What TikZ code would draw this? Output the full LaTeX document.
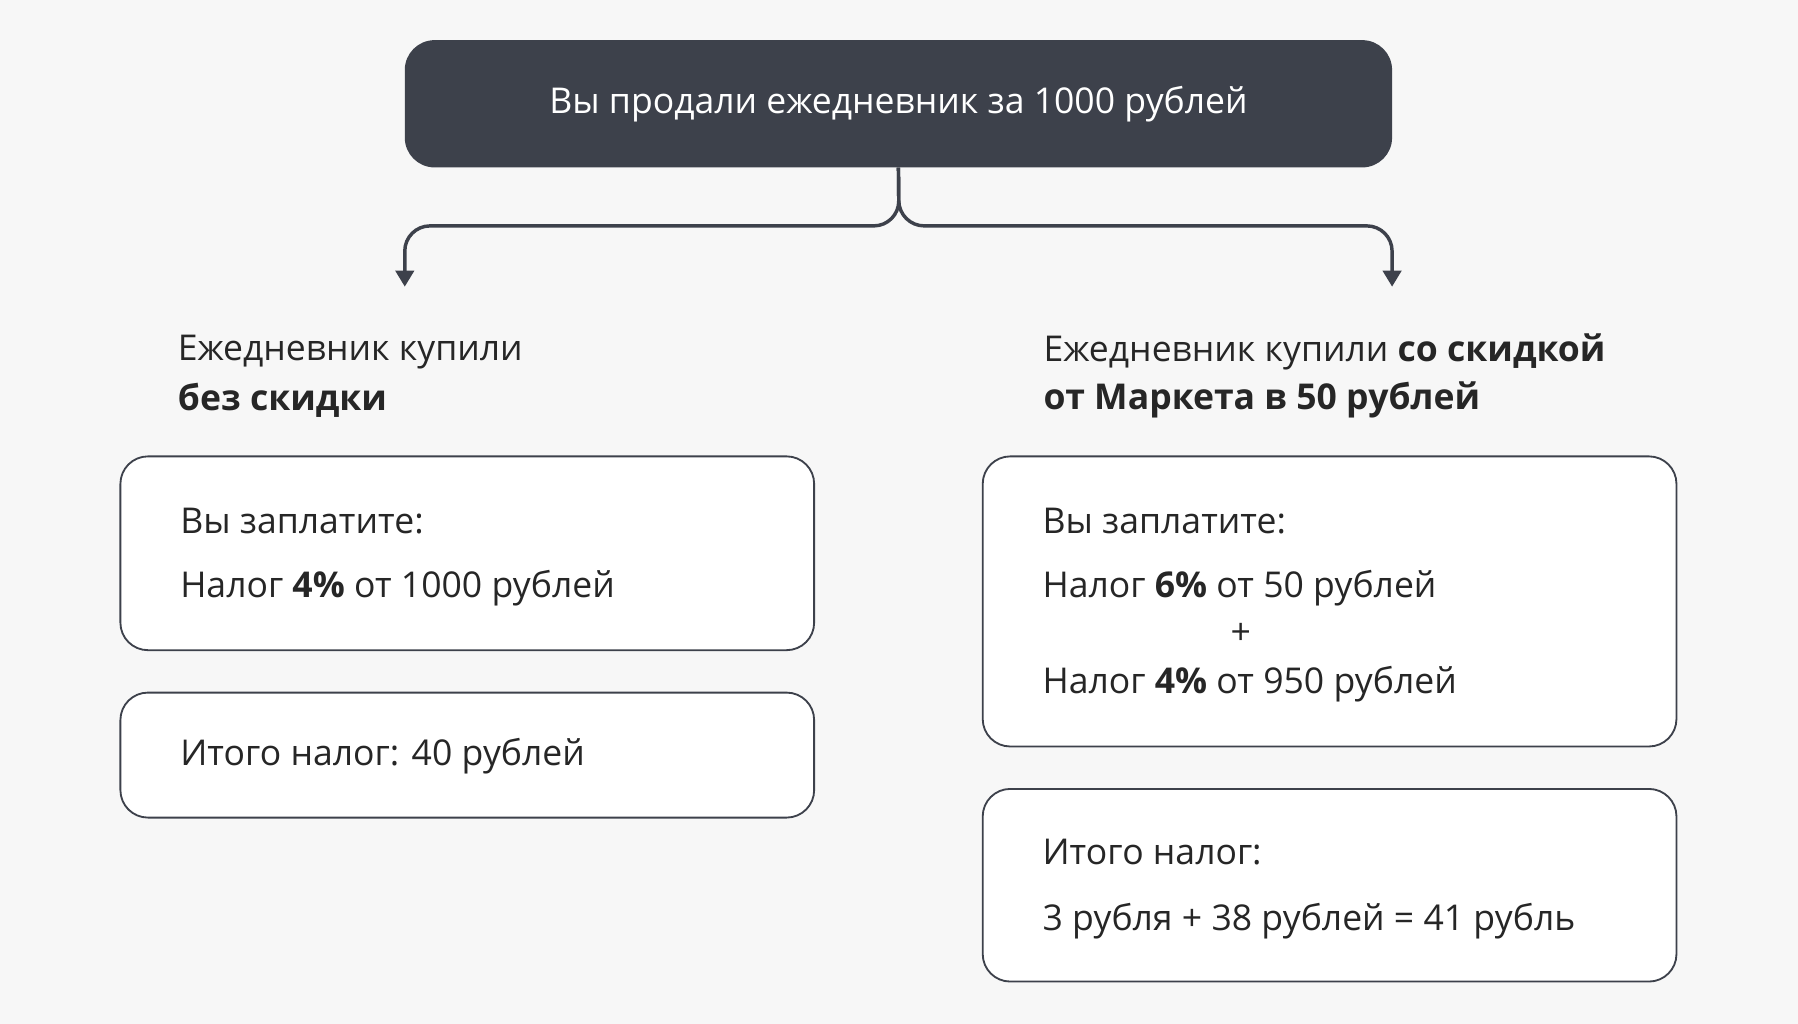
\documentclass[tikz,border=0pt]{standalone}
\usepackage{fontspec}
\setmainfont{Open Sans}
\usetikzlibrary{arrows.meta}
\definecolor{dark}{HTML}{3D414B}
\definecolor{bg}{HTML}{F7F7F7}
\tikzset{
  card/.style={draw=dark,line width=1.6pt,fill=white,rounded corners=24pt},
  txt/.style={anchor=west,inner sep=0pt,text=black!85,font=\fontsize{31}{38}\selectfont},
  conn/.style={draw=dark,line width=3pt,rounded corners=22pt,-{Triangle[length=14pt,width=16pt]}}
}
\begin{document}
\begin{tikzpicture}[x=1pt,y=-1pt]
\fill[bg] (0,0) rectangle (1568,893);
\useasboundingbox (0,0) rectangle (1568,893);
\node[fill=dark,rounded corners=26pt,minimum width=861pt,minimum height=111pt,text=white,font=\fontsize{31}{38}\selectfont] (top) at (783.5,90.5) {Вы продали ежедневник за 1000 рублей};
\coordinate (la) at (353,250);
\coordinate (ra) at (1214,250);
\draw[conn] (top.south) -- (784,197) -- (353,197) -- (la);
\draw[conn] (top.south) -- (784,197) -- (1214,197) -- (ra);
\node[txt] (lh1) at (155,307) {Ежедневник купили};
\node[txt] (lh2) at (155,349) {\bfseries без скидки};
\node[txt] (rh1) at (910,307) {Ежедневник купили \bfseries со скидкой};
\node[txt] (rh2) at (910,349) {\bfseries от Маркета в 50 рублей};
\draw[card] (105,398) rectangle (710,567);
\draw[card] (105,604) rectangle (710,713);
\draw[card] (857,398) rectangle (1462,651);
\draw[card] (857,688) rectangle (1462,856);
\node[txt] (l1) at (157,454) {Вы заплатите:};
\node[txt] (l2) at (157,513) {Налог \textbf{4\%} от 1000 рублей};
\node[txt] (l3) at (157,659) {Итого налог: 40 рублей};
\node[txt] (r1) at (909,454) {Вы заплатите:};
\node[txt] (r2) at (909,513) {Налог \textbf{6\%} от 50 рублей};
\node[txt,anchor=center] (rp) at (1082,553) {+};
\node[txt] (r3) at (909,597) {Налог \textbf{4\%} от 950 рублей};
\node[txt] (r4) at (909,743) {Итого налог:};
\node[txt] (r5) at (909,803) {3 рубля + 38 рублей = 41 рубль};
\end{tikzpicture}
\end{document}
